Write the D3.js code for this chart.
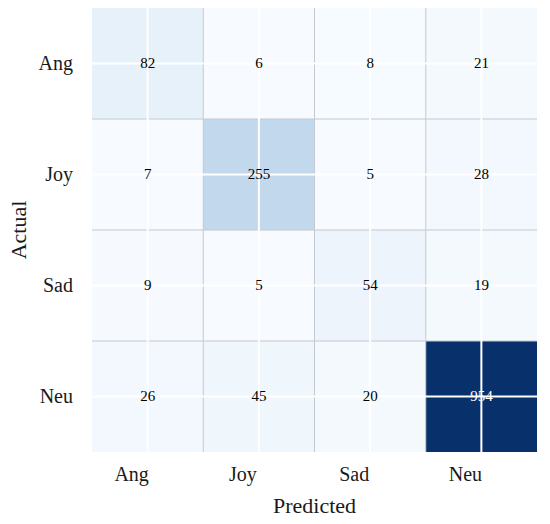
<!DOCTYPE html>
<html><head><meta charset="utf-8">
<script src="https://cdn.jsdelivr.net/npm/d3@7"></script>
<style>html,body{margin:0;padding:0;background:#fff;}svg{display:block;}</style>
</head><body>
<script>
const categories = ["Ang", "Joy", "Sad", "Neu"];
const matrix = [
  [82, 6, 8, 21],
  [7, 255, 5, 28],
  [9, 5, 54, 19],
  [26, 45, 20, 954]
];
const xTitle = "Predicted";
const yTitle = "Actual";

const W = 550, H = 524;
const font = "'Liberation Serif','Times New Roman',serif";
const svg = d3.select("body").append("svg").attr("width", W).attr("height", H);

const x = d3.scaleBand().domain(categories).range([92, 537]);
const y = d3.scaleBand().domain(categories).range([8, 452]);

const flat = matrix.flat();
const vmin = d3.min(flat), vmax = d3.max(flat);
const blues = ["#f7fbff","#deebf7","#c6dbef","#9ecae1","#6baed6","#4292c6","#2171b5","#08519c","#08306b"];
const color = d3.scaleLinear()
  .domain(blues.map((_, i) => vmin + (vmax - vmin) * i / (blues.length - 1)))
  .range(blues).interpolate(d3.interpolateRgb);

const cells = [];
matrix.forEach((row, i) => row.forEach((v, j) => cells.push({r: categories[i], c: categories[j], v})));

svg.append("g").selectAll("rect").data(cells).join("rect")
  .attr("x", d => x(d.c)).attr("y", d => y(d.r))
  .attr("width", x.bandwidth()).attr("height", y.bandwidth())
  .attr("fill", d => color(d.v));

// cell border lines
const bg = svg.append("g").attr("stroke", "#c4c8d0").attr("stroke-width", 1);
categories.slice(1).forEach(c => {
  bg.append("line").attr("x1", x(c)).attr("x2", x(c)).attr("y1", y.range()[0]).attr("y2", y.range()[1]);
  bg.append("line").attr("y1", y(c)).attr("y2", y(c)).attr("x1", x.range()[0]).attr("x2", x.range()[1]);
});

// white grid lines at cell centers
const gg = svg.append("g").attr("stroke", "#ffffff").attr("stroke-width", 2);
categories.forEach(c => {
  const cx = x(c) + x.bandwidth() / 2, cy = y(c) + y.bandwidth() / 2;
  gg.append("line").attr("x1", cx).attr("x2", cx).attr("y1", y.range()[0]).attr("y2", y.range()[1]);
  gg.append("line").attr("y1", cy).attr("y2", cy).attr("x1", x.range()[0]).attr("x2", x.range()[1]);
});

// annotations (drawn above grid lines)
svg.append("g").selectAll("text").data(cells).join("text")
  .attr("x", d => x(d.c) + x.bandwidth() / 2)
  .attr("y", d => y(d.r) + y.bandwidth() / 2 - 1)
  .attr("text-anchor", "middle").attr("dy", "0.35em")
  .attr("font-family", font).attr("font-size", 15)
  .attr("fill", d => (d.v - vmin) / (vmax - vmin) > 0.5 ? "#ffffff" : "#000000")
  .text(d => d.v);

// axes
const xAxis = svg.append("g").attr("transform", `translate(-16,${y.range()[1]})`)
  .call(d3.axisBottom(x).tickSize(0).tickPadding(15));
const yAxis = svg.append("g").attr("transform", `translate(${x.range()[0]},0)`)
  .call(d3.axisLeft(y).tickSize(0).tickPadding(19));
[xAxis, yAxis].forEach(a => {
  a.select(".domain").remove();
  a.selectAll("text").attr("font-family", font).attr("font-size", 20).attr("fill", "#1a1a1a");
});

svg.append("text").attr("x", (x.range()[0] + x.range()[1]) / 2).attr("y", 513)
  .attr("text-anchor", "middle").attr("font-family", font).attr("font-size", 22).attr("fill", "#1a1a1a")
  .text(xTitle);
svg.append("text").attr("transform", `translate(26,${(y.range()[0] + y.range()[1]) / 2}) rotate(-90)`)
  .attr("text-anchor", "middle").attr("font-family", font).attr("font-size", 22).attr("fill", "#1a1a1a")
  .text(yTitle);
</script>
</body></html>
